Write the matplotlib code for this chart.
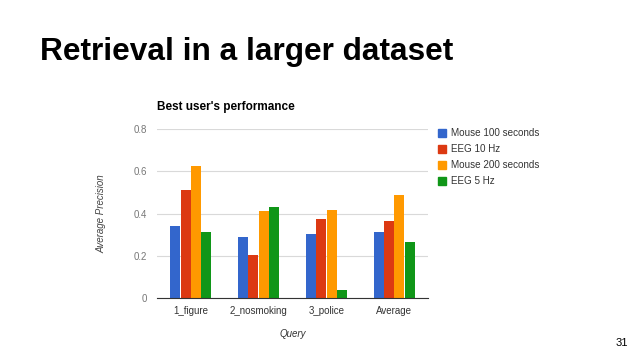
import matplotlib
matplotlib.use("Agg")
import matplotlib.pyplot as plt
import numpy as np
from matplotlib.patches import Rectangle

categories = ["1_figure", "2_nosmoking", "3_police", "Average"]
series_names = ["Mouse 100 seconds", "EEG 10 Hz", "Mouse 200 seconds", "EEG 5 Hz"]
mouse100 = [0.342, 0.290, 0.304, 0.312]
eeg10 = [0.512, 0.204, 0.374, 0.364]
mouse200 = [0.626, 0.413, 0.417, 0.488]
eeg5 = [0.312, 0.431, 0.040, 0.263]
yticks = [0, 0.2, 0.4, 0.6, 0.8]
ytick_labels = ["0", "0.2", "0.4", "0.6", "0.8"]

colors = ["#3366CC", "#DC3912", "#FF9900", "#109618"]
series = [mouse100, eeg10, mouse200, eeg5]

plt.rcParams['font.family'] = ['Liberation Sans', 'DejaVu Sans']

fig = plt.figure(figsize=(6.38, 3.59), dpi=100)
W, H = 638, 359
ax = fig.add_axes([157 / W, 1 - 298 / H, (428 - 157) / W, (298 - 129) / H])

x = np.arange(len(categories))
bw = 0.152
for i, (vals, c) in enumerate(zip(series, colors)):
    ax.bar(x + (i - 1.5) * bw, vals, width=bw * 0.97, color=c, zorder=3)

ax.set_xlim(-0.5, len(categories) - 0.5)
ax.set_ylim(0, 0.8)
ax.set_yticks(yticks)
ax.set_yticklabels(ytick_labels)
ax.set_xticks(x)
ax.set_xticklabels(categories)
ax.tick_params(axis='both', length=0, labelsize=7, colors="#444444")
ax.tick_params(axis='y', pad=7)
ax.tick_params(axis='x', pad=6)
for lbl in ax.get_yticklabels():
    lbl.set_color("#777777")
for lbl in ax.get_xticklabels():
    lbl.set_color("#333333")
ax.grid(axis='y', color="#d9d9d9", linewidth=0.8, zorder=0)
for s in ['top', 'right', 'left']:
    ax.spines[s].set_visible(False)
ax.spines['bottom'].set_color("#333333")
ax.spines['bottom'].set_linewidth(0.8)
ax.spines['bottom'].set_zorder(4)

ax.set_ylabel("Average Precision", fontsize=7, style='italic', color="#444444", labelpad=20)
ax.set_xlabel("Query", fontsize=7, style='italic', color="#333333", labelpad=9)

fig.text(157 / W, 1 - 107 / H, "Best user's performance", fontsize=8.5, fontweight='bold',
         ha='left', va='center', color="#000000")

fig.text(40 / W, 1 - 60 / H, "Retrieval in a larger dataset", fontsize=22.8, fontweight='bold',
         ha='left', va='baseline', color="#000000")

fig.text(628 / W, 1 - 345.5 / H, "31", fontsize=8, ha='right', va='baseline', color="#000000")

# legend
for i, (name, c) in enumerate(zip(series_names, colors)):
    yc = 133 + i * 16
    fig.patches.append(Rectangle((438 / W, 1 - (yc + 4) / H), 8 / W, 8 / H,
                                 transform=fig.transFigure, color=c, figure=fig))
    fig.text(451 / W, 1 - yc / H, name, fontsize=7.1, ha='left', va='center', color="#333333")

fig.savefig("out.png", dpi=100)
